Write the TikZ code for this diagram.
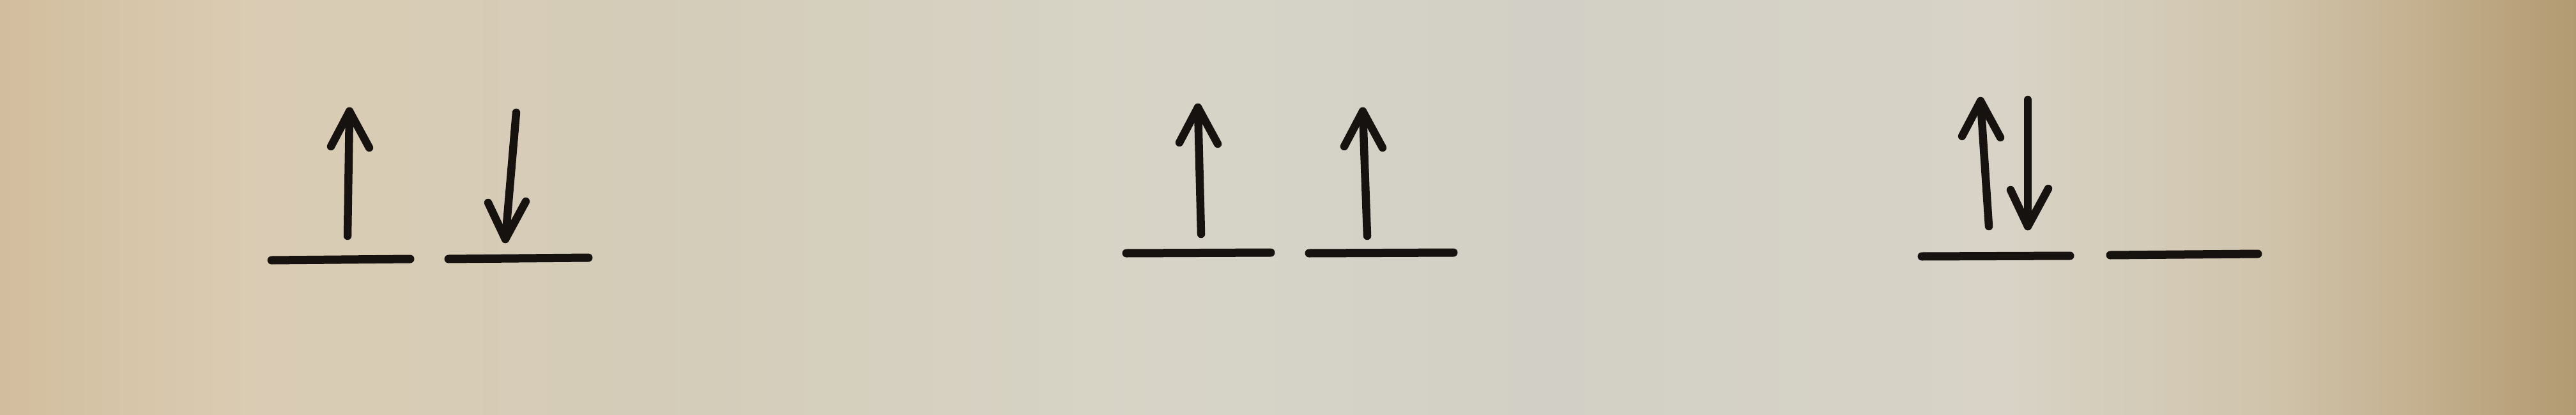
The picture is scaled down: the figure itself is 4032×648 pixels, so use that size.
\documentclass[tikz,border=0pt]{standalone}
\usetikzlibrary{calc}
\definecolor{pA}{RGB}{210,190,158}
\definecolor{pB}{RGB}{218,204,180}
\definecolor{pC}{RGB}{212,204,184}
\definecolor{pD}{RGB}{215,212,199}
\definecolor{pE}{RGB}{210,208,198}
\definecolor{pF}{RGB}{216,211,198}
\definecolor{pG}{RGB}{208,196,172}
\definecolor{pH}{RGB}{196,176,142}
\definecolor{pI}{RGB}{178,154,114}
\definecolor{ink}{RGB}{22,18,16}
% TikZ maps 25bp..75bp of a shading onto the path
\pgfdeclarehorizontalshading{paper}{100bp}{color(0bp)=(pA); color(25bp)=(pA); color(30bp)=(pB); color(37.5bp)=(pC); color(47.5bp)=(pD); color(55bp)=(pE); color(64bp)=(pF); color(69bp)=(pG); color(72bp)=(pH); color(75bp)=(pI); color(100bp)=(pI)}
\tikzset{
  level/.style={draw=ink, line width=13pt, line cap=round},
  shaft/.style={draw=ink, line width=12.5pt, line cap=round},
  head/.style={draw=ink, line width=12.5pt, line cap=round, line join=round},
}
\begin{document}
\begin{tikzpicture}[x=1pt,y=-1pt]
\useasboundingbox (0,0) rectangle (4032,648);
\shade[shading=paper] (0,0) rectangle (4032,648);
% orbital levels
\coordinate (l1a) at (425,407); \coordinate (l1b) at (642,405);
\coordinate (l2a) at (702,405); \coordinate (l2b) at (921,403);
\coordinate (l3a) at (1763,396); \coordinate (l3b) at (1989,395);
\coordinate (l4a) at (2049,396); \coordinate (l4b) at (2275,395);
\coordinate (l5a) at (3008,401); \coordinate (l5b) at (3240,400);
\coordinate (l6a) at (3303,399); \coordinate (l6b) at (3534,397);
\foreach \n in {1,...,6} \draw[level] (l\n a) -- (l\n b);
% arrows: tail (t) and tip (h)
\coordinate (u1t) at (544,369); \coordinate (u1h) at (547,174);
\coordinate (d1t) at (808,176); \coordinate (d1h) at (791,374);
\coordinate (u2t) at (1880,366); \coordinate (u2h) at (1875,168);
\coordinate (u3t) at (2140,369); \coordinate (u3h) at (2133,174);
\coordinate (u4t) at (3113,354); \coordinate (u4h) at (3100,158);
\coordinate (d4t) at (3174,156); \coordinate (d4h) at (3174,354);
\foreach \a in {u1,u2,u3,u4} {
  \draw[shaft] (\a t) -- (\a h);
  \draw[head] ($(\a h)+(-29,55)$) -- (\a h) -- ($(\a h)+(31,57)$);
}
\foreach \a in {d1,d4} {
  \draw[shaft] (\a t) -- (\a h);
  \draw[head] ($(\a h)+(-27,-57)$) -- (\a h) -- ($(\a h)+(32,-59)$);
}
\end{tikzpicture}
\end{document}
